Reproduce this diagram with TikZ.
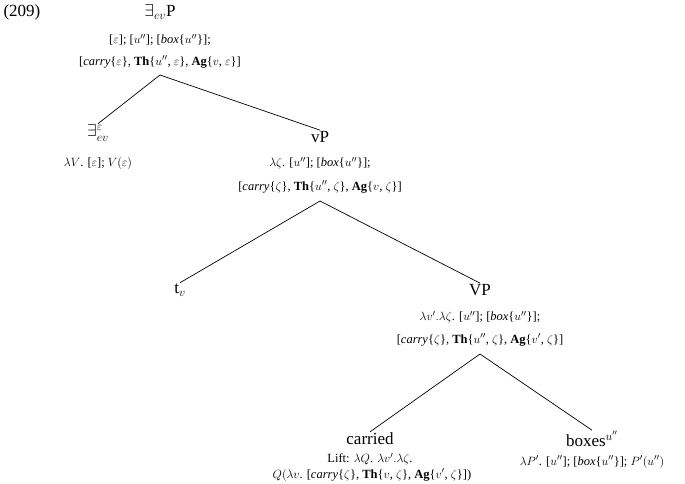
\documentclass[tikz,border=0pt]{standalone}
\usepackage{fontspec}
\setmainfont{Liberation Serif}
\usepackage{amsmath,amssymb}
\begin{document}
\begin{tikzpicture}[x=1pt,y=-1pt,
  big/.style={font=\fontsize{17}{19}\selectfont,inner sep=1pt},
  sm/.style={font=\fontsize{12.5}{14}\selectfont,inner sep=1pt},
  br/.style={line width=0.7pt}]
\useasboundingbox (0,0) rectangle (685,483);
\node[big] (num) at (22,12) {(209)};
\node[big] (root) at (160,12) {$\exists_{ev}$P};
\node[sm] (r1) at (160,40) {[$\varepsilon$]; [$u''$]; [\textit{box}\{$u''$\}];};
\node[sm] (r2) at (160,62) {[\textit{carry}\{$\varepsilon$\}, \textbf{Th}\{$u''$, $\varepsilon$\}, \textbf{Ag}\{$v$, $\varepsilon$\}]};
\coordinate (rb) at (160,75);
\node[big] (ex) at (98,133) {$\exists_{ev}^{\varepsilon}$};
\node[sm] (ex1) at (98,163) {$\lambda V$. [$\varepsilon$]; $V(\varepsilon)$};
\node[big] (vp) at (320,137) {vP};
\node[sm] (vp1) at (320,163) {$\lambda\zeta$. [$u''$]; [\textit{box}\{$u''$\}];};
\node[sm] (vp2) at (320,187) {[\textit{carry}\{$\zeta$\}, \textbf{Th}\{$u''$, $\zeta$\}, \textbf{Ag}\{$v$, $\zeta$\}]};
\coordinate (vb) at (320,201);
\node[big] (tv) at (180,290) {t$_v$};
\node[big] (VP) at (480,290) {VP};
\node[sm] (VP1) at (480,317) {$\lambda v'.\lambda\zeta$. [$u''$]; [\textit{box}\{$u''$\}];};
\node[sm] (VP2) at (480,340) {[\textit{carry}\{$\zeta$\}, \textbf{Th}\{$u''$, $\zeta$\}, \textbf{Ag}\{$v'$, $\zeta$\}]};
\coordinate (Vb) at (480,354);
\node[big] (car) at (370,439) {carried};
\node[sm] (car1) at (370,459) {Lift: $\lambda Q$. $\lambda v'.\lambda\zeta$.};
\node[sm] (car2) at (372,475) {$Q(\lambda v$. [\textit{carry}\{$\zeta$\}, \textbf{Th}\{$v$, $\zeta$\}, \textbf{Ag}\{$v'$, $\zeta$\}])};
\node[big] (box) at (592,439) {boxes$^{u''}$};
\node[sm] (box1) at (592,462) {$\lambda P'$. [$u''$]; [\textit{box}\{$u''$\}]; $P'(u'')$};
\draw[br] (rb) -- (ex.north);
\draw[br] (rb) -- (vp.north);
\draw[br] (vb) -- (tv.north);
\draw[br] (vb) -- (VP.north);
\draw[br] (Vb) -- (car.north);
\draw[br] (Vb) -- (box.north);
\end{tikzpicture}
\end{document}
